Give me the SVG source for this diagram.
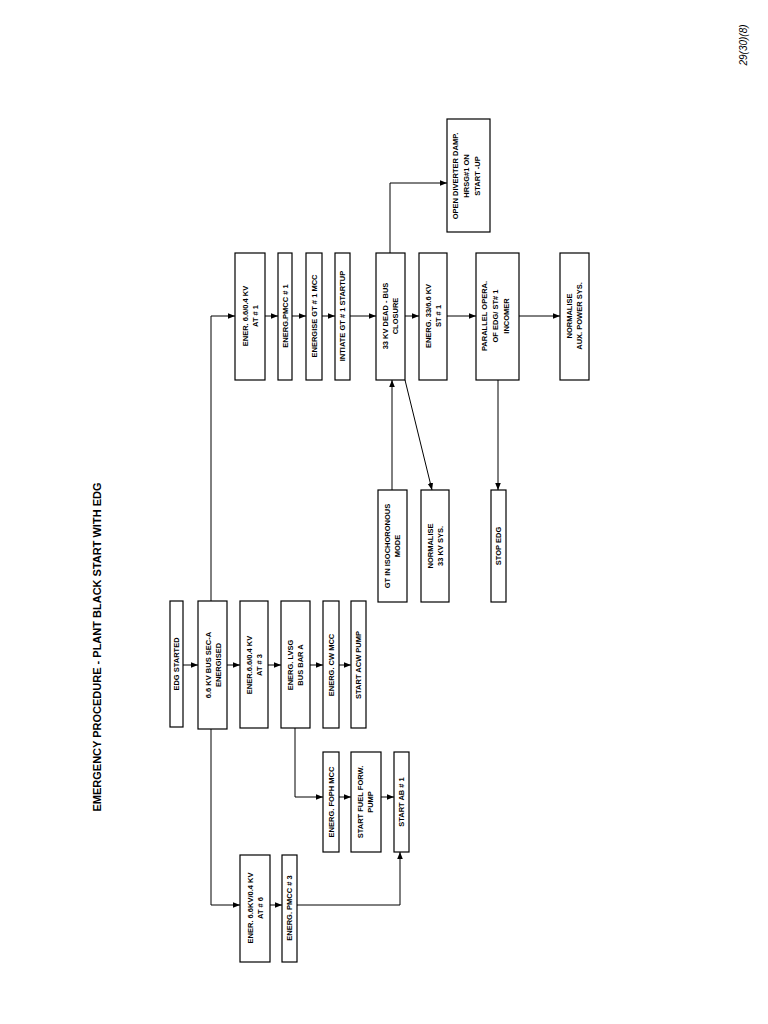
<svg xmlns="http://www.w3.org/2000/svg" width="768" height="1024" viewBox="0 0 768 1024">
<style>
rect{fill:#fff;stroke:#000;stroke-width:1.2}
text{font-family:"Liberation Sans",Arial,sans-serif;font-weight:bold;font-size:7.5px;text-anchor:middle;fill:#000}
.c path{fill:none;stroke:#000;stroke-width:1;marker-end:url(#a)}
</style>
<defs><marker id="a" viewBox="0 0 10 10" refX="10" refY="5" markerWidth="7" markerHeight="7" orient="auto" markerUnits="userSpaceOnUse"><path d="M0,1L10,5L0,9z" fill="#000"/></marker></defs>
<rect x="0" y="0" width="768" height="1024" style="stroke:none"/>
<text transform="translate(101,647) rotate(-90)" style="font-size:11px">EMERGENCY PROCEDURE - PLANT BLACK START WITH EDG</text>
<text transform="translate(747,45) rotate(-90)" style="font-size:10px;font-weight:normal;font-style:italic">29(30)(8)</text>
<g class="c">
<path d="M183,665H198"/><path d="M227,665H240"/><path d="M268,665H281"/><path d="M310,665H323"/><path d="M339,665H351"/>
<path d="M211,729V905H240"/><path d="M211,601V316H235"/>
<path d="M270,905H282"/><path d="M297,905H400V852"/>
<path d="M295,728V797H323"/><path d="M339,797H351"/><path d="M381,797H394"/>
<path d="M265,316H278"/><path d="M292,316H306"/><path d="M322,316H335"/><path d="M350,316H376"/>
<path d="M405,316H419"/><path d="M447,316H476"/><path d="M519,316H560"/>
<path d="M390,253V183H447"/><path d="M392,490V380"/><path d="M405,380L432,490"/><path d="M498,380V490"/>
</g>
<g id="n1"><rect x="170" y="601" width="13" height="126"/><text transform="translate(179,664) rotate(-90)">EDG STARTED</text></g>
<g id="n2"><rect x="198" y="601" width="29" height="128"/><text transform="translate(211,665) rotate(-90)">6.6 KV BUS SEC-A<tspan x="0" dy="10">ENERGISED</tspan></text></g>
<g id="n3"><rect x="240" y="601" width="28" height="127"/><text transform="translate(252,665) rotate(-90)">ENER.6.6/0.4 KV<tspan x="0" dy="10">AT # 3</tspan></text></g>
<g id="n4"><rect x="281" y="601" width="29" height="127"/><text transform="translate(293,665) rotate(-90)">ENERG. LVSG<tspan x="0" dy="10">BUS BAR A</tspan></text></g>
<g id="n5"><rect x="323" y="601" width="16" height="127"/><text transform="translate(334,665) rotate(-90)">ENERG. CW MCC</text></g>
<g id="n6"><rect x="351" y="601" width="15" height="127"/><text transform="translate(361,665) rotate(-90)">START ACW PUMP</text></g>
<g id="n7"><rect x="323" y="752" width="16" height="100"/><text transform="translate(334,802) rotate(-90)">ENERG. FOPH MCC</text></g>
<g id="n8"><rect x="351" y="752" width="30" height="100"/><text transform="translate(363,802) rotate(-90)">START FUEL FORW.<tspan x="0" dy="10">PUMP</tspan></text></g>
<g id="n9"><rect x="394" y="752" width="15" height="100"/><text transform="translate(404,802) rotate(-90)">START AB # 1</text></g>
<g id="n10"><rect x="240" y="855" width="30" height="107"/><text transform="translate(253,908) rotate(-90)">ENER. 6.6KV/0.4 KV<tspan x="0" dy="10">AT # 6</tspan></text></g>
<g id="n11"><rect x="282" y="855" width="15" height="107"/><text transform="translate(292,908) rotate(-90)">ENERG. PMCC # 3</text></g>
<g id="n12"><rect x="235" y="253" width="30" height="127"/><text transform="translate(248,316) rotate(-90)">ENER. 6.6/0.4 KV<tspan x="0" dy="10">AT # 1</tspan></text></g>
<g id="n13"><rect x="278" y="253" width="14" height="127"/><text transform="translate(288,316) rotate(-90)">ENERG.PMCC # 1</text></g>
<g id="n14"><rect x="306" y="253" width="16" height="127"/><text transform="translate(317,316) rotate(-90)">ENERGISE GT # 1 MCC</text></g>
<g id="n15"><rect x="335" y="253" width="15" height="127"/><text transform="translate(345,316) rotate(-90)">INTIATE GT # 1 STARTUP</text></g>
<g id="n16"><rect x="376" y="253" width="29" height="127"/><text transform="translate(388,316) rotate(-90)">33 KV DEAD - BUS<tspan x="0" dy="10">CLOSURE</tspan></text></g>
<g id="n17"><rect x="419" y="253" width="28" height="127"/><text transform="translate(431,316) rotate(-90)">ENERG. 33/6.6 KV<tspan x="0" dy="10">ST # 1</tspan></text></g>
<g id="n18"><rect x="476" y="253" width="43" height="127"/><text transform="translate(487,316) rotate(-90)">PARALLEL OPERA.<tspan x="0" dy="11">OF EDG/ ST# 1</tspan><tspan x="0" dy="11">INCOMER</tspan></text></g>
<g id="n19"><rect x="560" y="253" width="29" height="127"/><text transform="translate(572,316) rotate(-90)">NORMALISE<tspan x="0" dy="10">AUX. POWER SYS.</tspan></text></g>
<g id="n20"><rect x="447" y="119" width="43" height="113"/><text transform="translate(458,176) rotate(-90)">OPEN DIVERTER DAMP.<tspan x="0" dy="11">HRSG#1 ON</tspan><tspan x="0" dy="11">START -UP</tspan></text></g>
<g id="n21"><rect x="378" y="490" width="29" height="112"/><text transform="translate(390,546) rotate(-90)">GT IN ISOCHORONOUS<tspan x="0" dy="10">MODE</tspan></text></g>
<g id="n22"><rect x="421" y="490" width="28" height="112"/><text transform="translate(433,546) rotate(-90)">NORMALISE<tspan x="0" dy="10">33 KV SYS.</tspan></text></g>
<g id="n23"><rect x="491" y="490" width="15" height="112"/><text transform="translate(501,546) rotate(-90)">STOP EDG</text></g>
</svg>
